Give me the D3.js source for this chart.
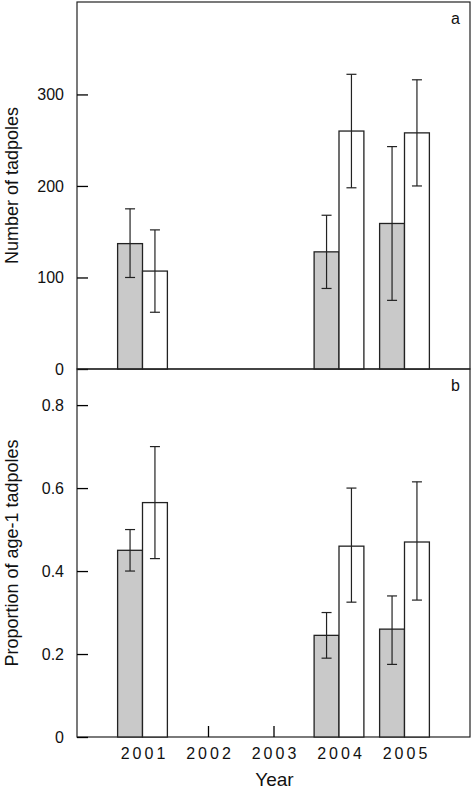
<!DOCTYPE html><html><head><meta charset="utf-8"><script src="https://cdn.jsdelivr.net/npm/d3@7"></script>
<style>body{margin:0;background:#fff}text{font-family:"Liberation Sans",Arial,sans-serif;fill:#111}</style></head><body>
<svg id="c" width="474" height="791"></svg>
<script>
const years=[2001,2002,2003,2004,2005];
const yearLabels=["2001","2002","2003","2004","2005"];
const dataYears=[2001,2004,2005];
const numGray=[137,128,159], numGrayLo=[100,88,75], numGrayHi=[175,168,243];
const numWhite=[107,260,258], numWhiteLo=[62,198,200], numWhiteHi=[152,322,316];
const propGray=[0.45,0.245,0.26], propGrayLo=[0.40,0.19,0.175], propGrayHi=[0.50,0.30,0.34];
const propWhite=[0.565,0.46,0.47], propWhiteLo=[0.43,0.325,0.33], propWhiteHi=[0.70,0.60,0.615];
const numTicks=[0,100,200,300], propTicks=[0,0.2,0.4,0.6,0.8];

const svg=d3.select("#c");
const L=77,R=470;
const x=d3.scaleLinear().domain([2000,2006]).range([L,R]);
const bw=x(2001.38)-x(2001);
function panel(top,bot,ymax,ticks,fmt,gray,gLo,gHi,white,wLo,wHi,letter,title,showX){
  const y=d3.scaleLinear().domain([0,ymax]).range([bot,top]);
  const g=svg.append("g");
  g.append("rect").attr("x",L).attr("y",top).attr("width",R-L).attr("height",bot-top).attr("fill","none").attr("stroke","#222").attr("stroke-width",1.2);
  g.append("g").attr("transform",`translate(${L},0)`).call(d3.axisRight(y).tickValues(ticks).tickFormat(fmt).tickSize(11))
   .call(a=>{a.select(".domain").remove();a.selectAll("line").attr("stroke-width",1.3);a.selectAll("text").attr("x",-13).attr("text-anchor","end").style("font-size","16px");});
  if(showX){
    g.append("g").attr("transform",`translate(0,${bot})`).call(d3.axisTop(x).tickValues([2002,2003]).tickFormat("").tickSize(11)).call(a=>{a.select(".domain").remove();a.selectAll("line").attr("stroke-width",1.3);});
  }
  const series=[[gray,gLo,gHi,"#c9c9c9",-1],[white,wLo,wHi,"#fff",0]];
  series.forEach(([v,lo,hi,col,off])=>{
    dataYears.forEach((yr,i)=>{
      const x0=x(yr)+off*bw;
      g.append("rect").attr("x",x0).attr("y",y(v[i])).attr("width",bw).attr("height",bot-y(v[i])).attr("fill",col).attr("stroke","#222").attr("stroke-width",1.3);
      const cx=x0+bw/2;
      g.append("line").attr("x1",cx).attr("x2",cx).attr("y1",y(lo[i])).attr("y2",y(hi[i])).attr("stroke","#222").attr("stroke-width",1.2);
      [lo[i],hi[i]].forEach(e=>g.append("line").attr("x1",cx-5).attr("x2",cx+5).attr("y1",y(e)).attr("y2",y(e)).attr("stroke","#222").attr("stroke-width",1.2));
    });
  });
  g.append("text").attr("x",451).attr("y",top+22).text(letter).style("font-size","16px");
  g.append("text").attr("transform",`translate(18,${(top+bot)/2}) rotate(-90)`).attr("text-anchor","middle").text(title).style("font-size","18px");
  return y;
}
panel(2,369,401,numTicks,d3.format("d"),numGray,numGrayLo,numGrayHi,numWhite,numWhiteLo,numWhiteHi,"a","Number of tadpoles",false);
panel(369,737,0.887,propTicks,v=>v===0?"0":d3.format(".1f")(v),propGray,propGrayLo,propGrayHi,propWhite,propWhiteLo,propWhiteHi,"b","Proportion of age-1 tadpoles",true);
years.forEach((yr,i)=>svg.append("text").attr("x",x(yr)+2).attr("y",759).attr("text-anchor","middle").style("font-size","16px").style("letter-spacing","3px").text(yearLabels[i]));
svg.append("text").attr("x",x(2003)+1).attr("y",786).attr("text-anchor","middle").style("font-size","19px").text("Year");
</script></body></html>
